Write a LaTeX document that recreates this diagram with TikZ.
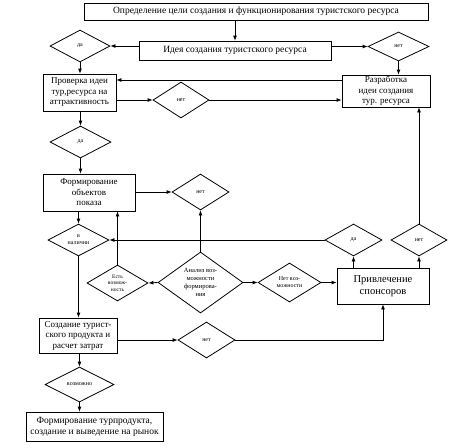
\documentclass[tikz,border=0pt]{standalone}
\usepackage{fontspec}
\setmainfont{Liberation Serif}
\usetikzlibrary{shapes.geometric,arrows.meta}
\tikzset{
  box/.style={draw, line width=0.8pt, inner sep=0pt, align=center, font=\fontsize{9}{10.5}\selectfont},
  dia/.style={draw, diamond, inner sep=0pt, line width=0.8pt},
  dtxt/.style={inner sep=0pt, align=center, font=\fontsize{6}{7}\selectfont},
  arr/.style={-{Latex[length=5pt,width=4pt]}, line width=0.8pt}
}
\begin{document}
\begin{tikzpicture}[x=1pt,y=-1pt]
\useasboundingbox (0,0) rectangle (474,445);
% boxes
\node[box, minimum width=344, minimum height=17, font=\fontsize{9.5}{11}\selectfont] (top) at (256,11.5) {Определение цели создания и функционирования туристского ресурса};
\node[box, minimum width=192, minimum height=19, font=\fontsize{9.5}{11}\selectfont] (idea) at (235,50.5) {Идея создания туристского ресурса};
\node[box, minimum width=73, minimum height=37] (prov) at (79.5,92.5) {Проверка идеи\\тур,ресурса на\\аттрактивность};
\node[box, minimum width=88, minimum height=32] (razr) at (386,91) {Разработка\\идеи создания\\тур. ресурса};
\node[box, minimum width=92, minimum height=37] (form) at (89,192.5) {Формирование\\объектов\\показа};
\node[box, minimum width=92, minimum height=36, font=\fontsize{10.5}{12}\selectfont] (spons) at (383,286) {Привлечение\\спонсоров};
\node[box, minimum width=78, minimum height=35] (soz) at (78,335.5) {Создание турист-\\ского продукта и\\расчет затрат};
\node[box, minimum width=137, minimum height=29, font=\fontsize{9.5}{11}\selectfont] (fin) at (94.5,426.5) {Формирование турпродукта,\\создание и выведение на рынок};
% diamonds
\node[dia, minimum width=60, minimum height=32] (daL) at (80,46) {};
\node[dtxt] (daLt) at (daL) {да};
\node[dia, minimum width=61, minimum height=29] (netR) at (398.5,46.5) {};
\node[dtxt] (netRt) at (netR) {нет};
\node[dia, minimum width=56, minimum height=36] (netM) at (181,100) {};
\node[dtxt] (netMt) at (netM) {нет};
\node[dia, minimum width=61, minimum height=32] (da2) at (80.5,142) {};
\node[dtxt] (da2t) at (da2) {да};
\node[dia, minimum width=57, minimum height=36] (net3) at (200.5,192) {};
\node[dtxt] (net3t) at (net3) {нет};
\node[dia, minimum width=61, minimum height=32] (nal) at (78.5,240) {};
\node[dtxt] (nalt) at (nal) {в\\наличии};
\node[dia, minimum width=61, minimum height=36] (est) at (117.5,283) {};
\node[dtxt, font=\fontsize{5.5}{6.5}\selectfont] (estt) at (est) {Есть\\возмож-\\ность};
\node[dia, minimum width=85, minimum height=61] (anal) at (200.5,282.5) {};
\node[dtxt, font=\fontsize{6.5}{8}\selectfont] (analt) at (anal) {Анализ воз-\\можности\\формирова-\\ния};
\node[dia, minimum width=63, minimum height=39] (netv) at (289.5,282.5) {};
\node[dtxt] (netvt) at (netv) {Нет воз-\\можности};
\node[dia, minimum width=57, minimum height=32] (daS) at (353.5,240) {};
\node[dtxt] (daSt) at (daS) {да};
\node[dia, minimum width=56, minimum height=32] (netS) at (419,240) {};
\node[dtxt] (netSt) at (netS) {нет};
\node[dia, minimum width=57, minimum height=36] (net4) at (206.5,340) {};
\node[dtxt] (net4t) at (net4) {нет};
\node[dia, minimum width=69, minimum height=35] (voz) at (79.5,384.5) {};
\node[dtxt] (vozt) at (voz) {возможно};
% connectors
\draw[arr] (idea.north |- top.south) -- (idea.north);
\draw[arr] (idea.west |- daL) -- (daL.east);
\draw[arr] (idea.east |- netR) -- (netR.west);
\draw[arr] (daL.south) -- (daL.south |- prov.north);
\draw[arr] (netR.south) -- (netR.south |- razr.north);
\draw[arr] (razr.west |- 0,80) -- (prov.east |- 0,80);
\draw[arr] (prov.east |- netM) -- (netM.west);
\draw[arr] (netM.east) -- (razr.west |- netM);
\draw[arr] (netS.north) -- (netS.north |- razr.south);
\draw[arr] (da2.north |- prov.south) -- (da2.north);
\draw[arr] (da2.south) -- (da2.south |- form.north);
\draw[arr] (form.east |- net3) -- (net3.west);
\draw[arr] (form.south -| nal) -- (nal.north);
\draw[arr] (est.north) -- (est.north |- form.south);
\draw[arr] (anal.north) -- (net3.south);
\draw[arr] (anal.west) -- (est.east);
\draw[arr] (anal.east) -- (netv.west);
\draw[arr] (netv.east) -- (spons.west |- netv);
\draw[arr] (spons.north -| daS) -- (daS.south);
\draw[arr] (spons.north -| netS) -- (netS.south);
\draw[arr] (daS.west) -- (nal.east);
\draw[arr] (nal.south) -- (nal.south |- soz.north);
\draw[arr] (soz.east |- net4) -- (net4.west);
\draw[arr] (net4.east) -| (spons.south);
\draw[arr] (soz.south -| voz) -- (voz.north);
\draw[arr] (voz.south) -- (voz.south |- fin.north);
\end{tikzpicture}
\end{document}
